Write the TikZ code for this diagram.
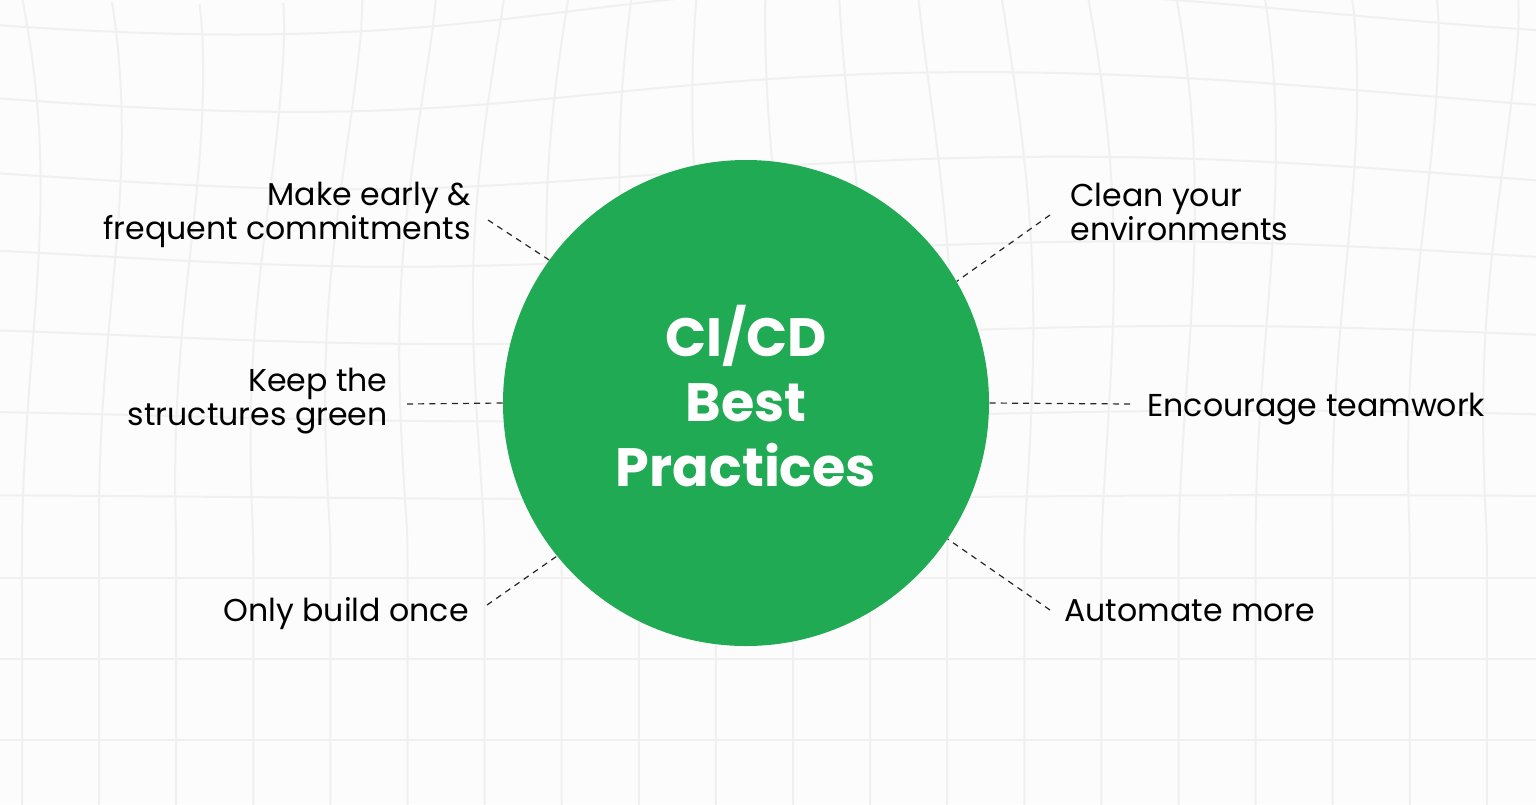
\documentclass[tikz,border=0pt]{standalone}
\usepackage{fontspec}
\setmainfont{Poppins}
\usetikzlibrary{positioning}

\definecolor{ciGreen}{HTML}{21AA54}
\definecolor{gridGray}{HTML}{F0F0F0}
\definecolor{paper}{HTML}{FCFCFC}

\tikzset{
  gridline/.style={draw=gridGray, line width=1pt},
  tipleft/.style={font=\fontsize{15.8}{17}\selectfont, align=right, anchor=east, inner sep=0pt},
  tipright/.style={font=\fontsize{15.8}{17}\selectfont, align=left, anchor=west, inner sep=0pt},
  leader/.style={draw=black!85, line width=0.6pt, dash pattern=on 3pt off 2.6pt},
}

\begin{document}
\begin{tikzpicture}[x=0.5pt, y=-0.5pt,
  declare function={wt(\y)=max(0,min(1,(540-\y)/540));
    wx(\x,\y)=\x+wt(\y)*32*sin(0.3*\x+0.3*\y);
    wy(\x,\y)=\y+wt(\y)*24*sin(0.25*\x-0.2*\y+40);}]
  \fill[paper] (0,0) rectangle (1536,804);
  \useasboundingbox (0,0) rectangle (1536,804);
  \clip (0,0) rectangle (1536,804);

  \foreach \k in {0,...,19}
  {   \draw[gridline] plot[smooth, domain=-20:824, samples=30, variable=\t]
        ({wx(22+77.1*\k,\t)},{wy(22+77.1*\k,\t)});
  }
  \foreach \k in {0,...,9}
  {   \draw[gridline] plot[smooth, domain=-20:1556, samples=45, variable=\t]
        ({wx(\t,11+81*\k)},{wy(\t,11+81*\k)});
  }

  \node[circle, fill=ciGreen, minimum size=486*0.5pt, inner sep=0pt] (hub) at (746,403) {};
  \node[text=white, font=\bfseries\fontsize{27}{32.5}\selectfont, align=center] (title) at (746,396) {CI/CD\\Best\\Practices};

  \node[tipleft] (commit) at (471,215) {Make early \&\\frequent commitments};
  \node[tipleft] (green) at (388,401) {Keep the\\structures green};
  \node[tipleft] (once) at (469,614) {Only build once};
  \node[tipright] (clean) at (1070,212) {Clean your\\environments};
  \node[tipright] (team) at (1147,409) {Encourage teamwork};
  \node[tipright] (auto) at (1064,611) {Automate more};

  \coordinate (commitEnd) at (488,220);
  \coordinate (greenEnd) at (407,404);
  \coordinate (onceEnd) at (487,605);
  \coordinate (cleanEnd) at (1050,215);
  \coordinate (teamEnd) at (1130,404);
  \coordinate (autoEnd) at (1050,610);

  \draw[leader] (commitEnd) -- (hub.144.5);
  \draw[leader] (greenEnd) -- (hub.west);
  \draw[leader] (onceEnd) -- (hub.219.5);
  \draw[leader] (cleanEnd) -- (hub.30.5);
  \draw[leader] (teamEnd) -- (hub.east);
  \draw[leader] (autoEnd) -- (hub.326);
\end{tikzpicture}
\end{document}
